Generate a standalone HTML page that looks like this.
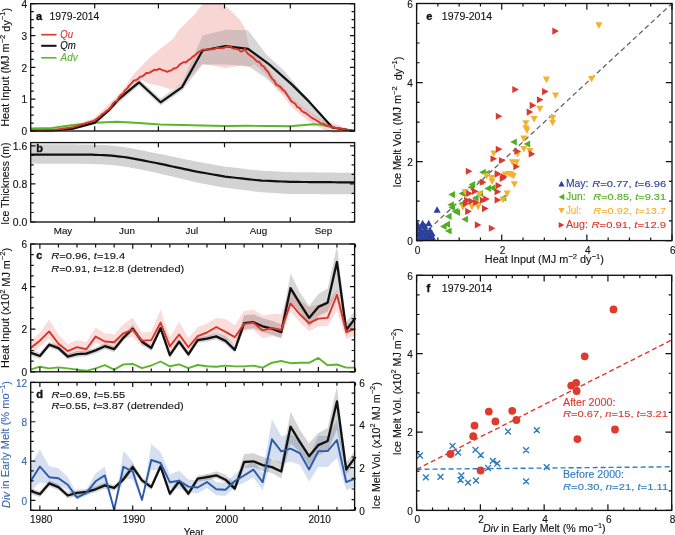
<!DOCTYPE html><html><head><meta charset="utf-8"><style>html,body{margin:0;padding:0;background:#fff;width:675px;height:535px;overflow:hidden;position:relative}</style></head><body><svg width="675" height="535" viewBox="0 0 675 535" style="position:absolute;left:0;top:0;font-family:'Liberation Sans', sans-serif">
<rect width="675" height="535" fill="#fff"/>
<path d="M30.7 130.6 L73 126.5 L94.8 117.5 L117 96.5 L125 87 L133 75 L147.8 59.6 L159.6 49.3 L173 38.9 L178.9 30 L184.8 24 L194.1 15 L201.6 5.6 L204 3.7 L222 3.7 L228 8 L240 20 L245 28 L250 52 L254 54.51 L258 57.5 L262 61.5 L266 65.5 L270 70.83 L274 76.49 L278 81.57 L282 85.09 L286 89.84 L290 95.41 L294 99.8 L298 103 L302 106.2 L306 109.39 L310 112.37 L314 114.8 L318 117.15 L322 119.15 L326 121.09 L330 122.3 L334 123.5 L354.6 131 L354.6 131 L334 133 L330 131.8 L326 130.59 L322 128.65 L318 126.65 L314 124.3 L310 121.87 L306 118.89 L302 115.7 L298 112.5 L294 109.3 L290 104.91 L286 99.34 L282 94.59 L278 91.07 L274 85.99 L270 80.33 L266 75 L262 71 L258 67 L254 64.01 L250 67 L240 66 L225 68 L215 66 L202 64 L195 72 L182 85 L171.7 89.5 L159.9 86 L148.7 83.5 L141.9 80 L130 91 L117 102 L94.8 121 L73 128.5 L30.7 131Z" fill="#f8d6d4" fill-opacity="1" stroke="none" />
<path d="M30.7 130 L52 130 L73 127.5 L94.8 120.5 L117 100 L139 79 L160.6 98.5 L182.1 83 L202.6 35.4 L225.4 29.8 L248.1 30.3 L266.8 55.1 L283.6 70.3 L300.5 90.5 L317.3 110.7 L330.8 125.8 L354.6 131 L354.6 131 L332.4 128.3 L317.3 119 L300.5 107.3 L283.6 93.8 L266.8 78.7 L248.1 66 L225.4 64.4 L202.6 64.4 L182.1 90.5 L160.6 105.5 L139 85.5 L117 104.5 L94.8 124.5 L73 129.5 L52 131 L30.7 131Z" fill="#9c9c9c" fill-opacity="0.4" stroke="none" />
<path d="M30.7 128.4 L52 128 L73 125 L94.8 122.8 L117 121.7 L139 123 L160 124.5 L182 125 L202 125.5 L225 126 L248 125.8 L270 126 L290 126.2 L313 124.3 L320 124.6 L335 128 L354.6 131" fill="none" stroke="#5cb52a" stroke-width="1.9" stroke-linejoin="round" stroke-linecap="butt" />
<path d="M30.7 130.5 L52 130.5 L73 128.6 L94.8 122.6 L108.7 110.5 L118 100 L127.4 91.8 L139 82.3 L160.6 102.3 L182.1 87.1 L202.6 50.5 L225.4 46.2 L248.1 48.8 L269.5 64.6 L292 84.6 L308.9 101.4 L332.4 127.5 L354.6 131" fill="none" stroke="#111" stroke-width="2.2" stroke-linejoin="round" stroke-linecap="butt" />
<path d="M30.7 131 L32.8 130.93 L34.9 130.86 L37 130.79 L39.1 130.72 L41.2 130.65 L43.3 130.59 L45.4 130.52 L47.5 130.45 L49.6 130.38 L51.7 130.31 L53.8 130.03 L55.9 129.72 L58 129.41 L60.1 129.1 L62.2 128.79 L64.3 128.48 L66.4 128.17 L68.5 127.86 L70.6 127.55 L72.7 127.24 L74.8 126.65 L76.9 126 L79 125.36 L81.1 124.71 L83.2 124.07 L85.3 123.42 L87.4 122.77 L89.5 122.13 L91.6 121.48 L93.7 120.84 L95.8 119.69 L97.9 118 L100 116.31 L102.1 114.15 L104.2 113.01 L106.3 111 L108.4 109.73 L110.5 107.53 L112.6 104.2 L114.7 101.78 L116.8 100.94 L118.9 97.46 L121 94.84 L123.1 93.64 L125.2 90.11 L127.3 88.38 L129.4 85.38 L131.5 83.31 L133.6 80.75 L135.7 80.15 L137.8 79.1 L139.9 77.01 L142 76.33 L144.1 75.16 L146.2 73.02 L148.3 73.27 L150.4 72.17 L152.5 70.85 L154.6 69.56 L156.7 70.26 L158.8 68.76 L160.9 69.33 L163 70.33 L165.1 70.74 L167.2 71.82 L169.3 70.86 L171.4 70.4 L173.5 68.56 L175.6 68.26 L177.7 66.96 L179.8 64.36 L181.9 63.21 L184 62.15 L186.1 62.28 L188.2 60.12 L190.3 59.05 L192.4 56.84 L194.5 55.59 L196.6 53.74 L198.7 52.05 L200.8 50.85 L202.9 49.43 L205 49.84 L207.1 49.28 L209.2 49.56 L211.3 49.27 L213.4 49.33 L215.5 48.47 L217.6 47.27 L219.7 48.24 L221.8 48.15 L223.9 47.76 L226 46.87 L228.1 46.85 L230.2 46.18 L232.3 48.21 L234.4 48.67 L236.5 49.08 L238.6 49.6 L240.7 51.44 L242.8 51.1 L244.9 48.89 L247 52.7 L249.1 54.69 L251.2 56.12 L253.3 57.7 L255.4 59.87 L257.5 61.67 L259.6 62.28 L261.7 65.41 L263.8 66.48 L265.9 69.79 L268 71.69 L270.1 75.66 L272.2 78.81 L274.3 80.93 L276.4 84.79 L278.5 85.67 L280.6 87.1 L282.7 89.89 L284.8 91.33 L286.9 94.55 L289 97.86 L291.1 101.15 L293.2 102.54 L295.3 104.02 L297.4 107.18 L299.5 107.86 L301.6 110.7 L303.7 112.27 L305.8 113.01 L307.9 114.83 L310 116.4 L312.1 117.9 L314.2 119.09 L316.3 120.3 L318.4 121.57 L320.5 123.19 L322.6 123.46 L324.7 124.38 L326.8 125.73 L328.9 125.49 L331 126.6 L333.1 127.23 L335.2 127.7 L337.3 128.06 L339.4 128.42 L341.5 128.77 L343.6 129.13 L345.7 129.49 L347.8 129.84 L349.9 130.2 L352 130.56 L354.1 130.92 L354.6 131" fill="none" stroke="#d8352b" stroke-width="1.9" stroke-linejoin="round" stroke-linecap="butt" />
<rect x="30.7" y="3.7" width="323.9" height="127.3" fill="none" stroke="#111" stroke-width="1.35"/>
<path d="M30.7 131 L35.4 131 M30.7 99.17 L35.4 99.17 M30.7 67.35 L35.4 67.35 M30.7 35.53 L35.4 35.53 M30.7 3.7 L35.4 3.7 M30.7 131 L33.7 131 M30.7 123.04 L33.7 123.04 M30.7 115.09 L33.7 115.09 M30.7 107.13 L33.7 107.13 M30.7 99.17 L33.7 99.17 M30.7 91.22 L33.7 91.22 M30.7 83.26 L33.7 83.26 M30.7 75.31 L33.7 75.31 M30.7 67.35 L33.7 67.35 M30.7 59.39 L33.7 59.39 M30.7 51.44 L33.7 51.44 M30.7 43.48 L33.7 43.48 M30.7 35.53 L33.7 35.53 M30.7 27.57 L33.7 27.57 M30.7 19.61 L33.7 19.61 M30.7 11.66 L33.7 11.66 M30.7 3.7 L33.7 3.7 M354.6 131 L349.9 131 M354.6 99.17 L349.9 99.17 M354.6 67.35 L349.9 67.35 M354.6 35.53 L349.9 35.53 M354.6 3.7 L349.9 3.7 M354.6 131 L351.6 131 M354.6 123.04 L351.6 123.04 M354.6 115.09 L351.6 115.09 M354.6 107.13 L351.6 107.13 M354.6 99.17 L351.6 99.17 M354.6 91.22 L351.6 91.22 M354.6 83.26 L351.6 83.26 M354.6 75.31 L351.6 75.31 M354.6 67.35 L351.6 67.35 M354.6 59.39 L351.6 59.39 M354.6 51.44 L351.6 51.44 M354.6 43.48 L351.6 43.48 M354.6 35.53 L351.6 35.53 M354.6 27.57 L351.6 27.57 M354.6 19.61 L351.6 19.61 M354.6 11.66 L351.6 11.66 M354.6 3.7 L351.6 3.7 M94.7 131 L94.7 126.3 M158.4 131 L158.4 126.3 M224.5 131 L224.5 126.3 M290.3 131 L290.3 126.3 M94.7 3.7 L94.7 8.4 M158.4 3.7 L158.4 8.4 M224.5 3.7 L224.5 8.4 M290.3 3.7 L290.3 8.4 " stroke="#111" stroke-width="1.2" fill="none"/>
<text x="27.2" y="135.2" font-size="10.0" text-anchor="end" fill="#111" stroke="#111" stroke-width="0.12" textLength="5.6" lengthAdjust="spacingAndGlyphs">0</text>
<text x="27.2" y="103.38" font-size="10.0" text-anchor="end" fill="#111" stroke="#111" stroke-width="0.12" textLength="5.6" lengthAdjust="spacingAndGlyphs">1</text>
<text x="27.2" y="71.55" font-size="10.0" text-anchor="end" fill="#111" stroke="#111" stroke-width="0.12" textLength="5.6" lengthAdjust="spacingAndGlyphs">2</text>
<text x="27.2" y="39.73" font-size="10.0" text-anchor="end" fill="#111" stroke="#111" stroke-width="0.12" textLength="5.6" lengthAdjust="spacingAndGlyphs">3</text>
<text x="27.2" y="7.9" font-size="10.0" text-anchor="end" fill="#111" stroke="#111" stroke-width="0.12" textLength="5.6" lengthAdjust="spacingAndGlyphs">4</text>
<text transform="translate(5.8 67.3) rotate(-90)" x="0" y="0" font-size="10" text-anchor="middle" dominant-baseline="central" fill="#111" stroke="#111" stroke-width="0.12"  textLength="119" lengthAdjust="spacingAndGlyphs">Heat Input (MJ m<tspan font-size="7" dy="-4">−2</tspan><tspan dy="4"> dy</tspan><tspan font-size="7" dy="-4">−1</tspan><tspan dy="4">)</tspan></text>
<text x="36" y="19.7" font-size="11" text-anchor="start" fill="#111" stroke="#111" stroke-width="0.35" font-weight="bold" font-style="normal" >a</text>
<text x="49.5" y="19.7" font-size="10.4" text-anchor="start" fill="#111" stroke="#111" stroke-width="0.12" font-weight="normal" font-style="normal"  textLength="49.8" lengthAdjust="spacingAndGlyphs">1979-2014</text>
<path d="M41.2 34.7 H56.5" stroke="#d8352b" stroke-width="1.6"/>
<path d="M41.2 45.8 H56.5" stroke="#111" stroke-width="2"/>
<path d="M41.2 57.8 H56.5" stroke="#5cb52a" stroke-width="1.6"/>
<text x="60.2" y="37.8" font-size="10" text-anchor="start" fill="#d8352b" stroke="#d8352b" stroke-width="0.12" font-weight="normal" font-style="italic"  textLength="12.8" lengthAdjust="spacingAndGlyphs">Qu</text>
<text x="60.2" y="48.9" font-size="10" text-anchor="start" fill="#111" stroke="#111" stroke-width="0.12" font-weight="normal" font-style="italic"  textLength="15.6" lengthAdjust="spacingAndGlyphs">Qm</text>
<text x="60.6" y="60.9" font-size="10" text-anchor="start" fill="#5cb52a" stroke="#5cb52a" stroke-width="0.12" font-weight="normal" font-style="italic"  textLength="17" lengthAdjust="spacingAndGlyphs">Adv</text>
<path d="M30.7 144.1 L34.75 144.12 L38.8 144.15 L42.85 144.17 L46.9 144.2 L50.95 144.22 L55 144.24 L59.05 144.27 L63.1 144.29 L67.15 144.31 L71.2 144.34 L75.25 144.36 L79.3 144.39 L83.35 144.41 L87.4 144.43 L91.45 144.55 L95.5 144.73 L99.55 144.91 L103.6 145.08 L107.65 145.26 L111.7 145.57 L115.75 146.07 L119.8 146.57 L123.85 147.06 L127.9 147.68 L131.95 148.47 L136 149.27 L140.05 150.06 L144.1 150.86 L148.15 151.65 L152.2 152.43 L156.25 153.19 L160.3 153.99 L164.35 154.85 L168.4 155.71 L172.45 156.56 L176.5 157.42 L180.55 158.28 L184.6 159.14 L188.65 159.99 L192.7 160.85 L196.75 161.64 L200.8 162.34 L204.85 163.04 L208.9 163.76 L212.95 164.49 L217 165.21 L221.05 165.94 L225.1 166.66 L229.15 167.12 L233.2 167.58 L237.25 168.04 L241.3 168.5 L245.35 168.96 L249.4 169.42 L253.45 169.88 L257.5 170.34 L261.55 170.71 L265.6 170.9 L269.65 171.1 L273.7 171.3 L277.75 171.5 L281.8 171.7 L285.85 171.9 L289.9 172.1 L293.95 172.14 L298 172.19 L302.05 172.23 L306.1 172.27 L310.15 172.32 L314.2 172.36 L318.25 172.41 L322.3 172.45 L326.35 172.49 L330.4 172.54 L334.45 172.58 L338.5 172.63 L342.55 172.67 L346.6 172.71 L350.65 172.76 L354.7 172.8 L354.7 194.4 L350.65 194.37 L346.6 194.34 L342.55 194.31 L338.5 194.28 L334.45 194.24 L330.4 194.21 L326.35 194.18 L322.3 194.15 L318.25 194.12 L314.2 194.09 L310.15 194.06 L306.1 194.02 L302.05 193.99 L298 193.96 L293.95 193.93 L289.9 193.89 L285.85 193.66 L281.8 193.42 L277.75 193.18 L273.7 192.95 L269.65 192.71 L265.6 192.47 L261.55 192.24 L257.5 191.84 L253.45 191.34 L249.4 190.84 L245.35 190.34 L241.3 189.84 L237.25 189.34 L233.2 188.85 L229.15 188.35 L225.1 187.85 L221.05 187.09 L217 186.33 L212.95 185.56 L208.9 184.8 L204.85 184.04 L200.8 183.22 L196.75 182.4 L192.7 181.49 L188.65 180.52 L184.6 179.54 L180.55 178.57 L176.5 177.59 L172.45 176.62 L168.4 175.64 L164.35 174.67 L160.3 173.69 L156.25 172.77 L152.2 171.89 L148.15 171.06 L144.1 170.26 L140.05 169.47 L136 168.68 L131.95 167.89 L127.9 167.09 L123.85 166.48 L119.8 165.99 L115.75 165.5 L111.7 165.01 L107.65 164.7 L103.6 164.52 L99.55 164.35 L95.5 164.17 L91.45 164 L87.4 163.89 L83.35 163.86 L79.3 163.84 L75.25 163.82 L71.2 163.8 L67.15 163.78 L63.1 163.76 L59.05 163.74 L55 163.72 L50.95 163.7 L46.9 163.68 L42.85 163.66 L38.8 163.64 L34.75 163.62 L30.7 163.6Z" fill="#d3d3d4" fill-opacity="1" stroke="none" />
<path d="M30.7 154.6 L34.75 154.6 L38.8 154.6 L42.85 154.6 L46.9 154.6 L50.95 154.6 L55 154.6 L59.05 154.6 L63.1 154.6 L67.15 154.6 L71.2 154.6 L75.25 154.6 L79.3 154.6 L83.35 154.6 L87.4 154.6 L91.45 154.69 L95.5 154.85 L99.55 155 L103.6 155.16 L107.65 155.31 L111.7 155.6 L115.75 156.07 L119.8 156.54 L123.85 157.01 L127.9 157.61 L131.95 158.38 L136 159.15 L140.05 159.92 L144.1 160.69 L148.15 161.47 L152.2 162.24 L156.25 163.01 L160.3 163.83 L164.35 164.7 L168.4 165.57 L172.45 166.45 L176.5 167.32 L180.55 168.19 L184.6 169.06 L188.65 169.93 L192.7 170.8 L196.75 171.61 L200.8 172.32 L204.85 173.04 L208.9 173.76 L212.95 174.47 L217 175.19 L221.05 175.9 L225.1 176.61 L229.15 177.06 L233.2 177.51 L237.25 177.97 L241.3 178.42 L245.35 178.87 L249.4 179.32 L253.45 179.77 L257.5 180.22 L261.55 180.57 L265.6 180.76 L269.65 180.95 L273.7 181.14 L277.75 181.33 L281.8 181.52 L285.85 181.71 L289.9 181.9 L293.95 181.93 L298 181.96 L302.05 181.99 L306.1 182.02 L310.15 182.06 L314.2 182.09 L318.25 182.12 L322.3 182.15 L326.35 182.18 L330.4 182.21 L334.45 182.24 L338.5 182.28 L342.55 182.31 L346.6 182.34 L350.65 182.37 L354.7 182.4" fill="none" stroke="#111" stroke-width="2.2" stroke-linejoin="round" stroke-linecap="butt" />
<rect x="30.7" y="142.6" width="323.9" height="79.4" fill="none" stroke="#111" stroke-width="1.35"/>
<path d="M30.7 222 L35.4 222 M30.7 183.92 L35.4 183.92 M30.7 145.84 L35.4 145.84 M30.7 222 L33.7 222 M30.7 212.48 L33.7 212.48 M30.7 202.96 L33.7 202.96 M30.7 193.44 L33.7 193.44 M30.7 183.92 L33.7 183.92 M30.7 174.4 L33.7 174.4 M30.7 164.88 L33.7 164.88 M30.7 155.36 L33.7 155.36 M30.7 145.84 L33.7 145.84 M354.6 222 L349.9 222 M354.6 183.92 L349.9 183.92 M354.6 145.84 L349.9 145.84 M354.6 222 L351.6 222 M354.6 212.48 L351.6 212.48 M354.6 202.96 L351.6 202.96 M354.6 193.44 L351.6 193.44 M354.6 183.92 L351.6 183.92 M354.6 174.4 L351.6 174.4 M354.6 164.88 L351.6 164.88 M354.6 155.36 L351.6 155.36 M354.6 145.84 L351.6 145.84 M94.7 222 L94.7 217.3 M158.4 222 L158.4 217.3 M224.5 222 L224.5 217.3 M290.3 222 L290.3 217.3 M94.7 142.6 L94.7 147.3 M158.4 142.6 L158.4 147.3 M224.5 142.6 L224.5 147.3 M290.3 142.6 L290.3 147.3 " stroke="#111" stroke-width="1.2" fill="none"/>
<text x="27.2" y="226" font-size="10.0" text-anchor="end" fill="#111" stroke="#111" stroke-width="0.12" textLength="14.5" lengthAdjust="spacingAndGlyphs">0.0</text>
<text x="27.2" y="187.92" font-size="10.0" text-anchor="end" fill="#111" stroke="#111" stroke-width="0.12" textLength="14.5" lengthAdjust="spacingAndGlyphs">0.8</text>
<text x="27.2" y="149.84" font-size="10.0" text-anchor="end" fill="#111" stroke="#111" stroke-width="0.12" textLength="14.5" lengthAdjust="spacingAndGlyphs">1.6</text>
<text transform="translate(5.6 183.6) rotate(-90)" x="0" y="0" font-size="10" text-anchor="middle" dominant-baseline="central" fill="#111" stroke="#111" stroke-width="0.12"  textLength="82.2" lengthAdjust="spacingAndGlyphs">Ice Thickness (m)</text>
<text x="36.2" y="151.5" font-size="11" text-anchor="start" fill="#111" stroke="#111" stroke-width="0.35" font-weight="bold" font-style="normal" >b</text>
<text x="63" y="233.6" font-size="9.8" text-anchor="middle" fill="#111" stroke="#111" stroke-width="0.12" font-weight="normal" font-style="normal" >May</text>
<text x="127" y="233.6" font-size="9.8" text-anchor="middle" fill="#111" stroke="#111" stroke-width="0.12" font-weight="normal" font-style="normal" >Jun</text>
<text x="191.8" y="233.6" font-size="9.8" text-anchor="middle" fill="#111" stroke="#111" stroke-width="0.12" font-weight="normal" font-style="normal" >Jul</text>
<text x="258.4" y="233.6" font-size="9.8" text-anchor="middle" fill="#111" stroke="#111" stroke-width="0.12" font-weight="normal" font-style="normal" >Aug</text>
<text x="323.4" y="233.6" font-size="9.8" text-anchor="middle" fill="#111" stroke="#111" stroke-width="0.12" font-weight="normal" font-style="normal" >Sep</text>
<path d="M30.6 341.1 L39.88 332.7 L49.17 319.4 L58.45 334.7 L67.73 344.1 L77.02 340.1 L86.3 342.2 L95.58 327.6 L104.86 333.5 L114.15 334.2 L123.43 324.3 L132.71 317.7 L142 332.6 L151.28 332.1 L160.56 309.6 L169.84 337.4 L179.13 321.5 L188.41 338.2 L197.69 327.1 L206.98 323.5 L216.26 318 L225.54 318.9 L234.83 325.2 L244.11 310.9 L253.39 309.7 L262.68 315.4 L271.96 314 L281.24 314 L290.52 287.5 L299.81 300.2 L309.09 307.2 L318.37 304.6 L327.66 302.9 L336.94 289.8 L346.22 324 L355.5 318.8 L355.5 335.8 L346.22 339 L336.94 310.8 L327.66 325.9 L318.37 326.6 L309.09 331.2 L299.81 322.2 L290.52 311.5 L281.24 338 L271.96 336 L262.68 338.4 L253.39 329.7 L244.11 330.9 L234.83 344.2 L225.54 338.9 L216.26 333 L206.98 338.5 L197.69 342.1 L188.41 353.2 L179.13 341.5 L169.84 352.4 L160.56 329.6 L151.28 346.1 L142 346.6 L132.71 336.7 L123.43 339.3 L114.15 348.2 L104.86 347.5 L95.58 342.6 L86.3 354.2 L77.02 352.1 L67.73 356.1 L58.45 349.7 L49.17 338.4 L39.88 346.7 L30.6 354.1Z" fill="#fadcda" fill-opacity="1" stroke="none" />
<path d="M30.6 349.6 L39.88 353 L49.17 341.7 L58.45 345.1 L67.73 353.6 L77.02 351.1 L86.3 350.6 L95.58 347.4 L104.86 343.2 L114.15 346.2 L123.43 334.8 L132.71 324.6 L142 338.7 L151.28 345 L160.56 324.2 L169.84 352.2 L179.13 338.7 L188.41 351.4 L197.69 337.1 L206.98 335.7 L216.26 332.4 L225.54 335.9 L234.83 344.9 L244.11 315.2 L253.39 314.2 L262.68 318.3 L271.96 320.7 L281.24 324.2 L290.52 273.2 L299.81 292.3 L309.09 305.9 L318.37 293.9 L327.66 288.6 L336.94 246 L346.22 322 L355.5 309.9 L355.5 323.9 L346.22 336 L336.94 292 L327.66 311.6 L318.37 315.9 L309.09 326.9 L299.81 311.3 L290.52 303.2 L281.24 338.2 L271.96 334.7 L262.68 332.3 L253.39 328.2 L244.11 329.2 L234.83 352.9 L225.54 343.9 L216.26 339.4 L206.98 341.7 L197.69 343.1 L188.41 357.4 L179.13 344.7 L169.84 358.2 L160.56 331.2 L151.28 351 L142 344.7 L132.71 331.6 L123.43 340.8 L114.15 352.2 L104.86 349.2 L95.58 353.4 L86.3 356.6 L77.02 357.1 L67.73 359.6 L58.45 351.1 L49.17 347.7 L39.88 359 L30.6 355.6Z" fill="#d6d6d6" fill-opacity="1" stroke="none" style="mix-blend-mode:multiply"/>
<path d="M30.6 369.6 L39.88 366.7 L49.17 368.4 L58.45 367.4 L67.73 368.4 L77.02 369.6 L86.3 370.8 L95.58 368.4 L104.86 365.2 L114.15 369.6 L123.43 364.4 L132.71 363.9 L142 368.2 L151.28 365.5 L160.56 361.5 L169.84 366.3 L179.13 364.4 L188.41 368.2 L197.69 365 L206.98 366.3 L216.26 366.7 L225.54 365.6 L234.83 366.4 L244.11 366.4 L253.39 365.6 L262.68 367.6 L271.96 362.7 L281.24 361 L290.52 363.2 L299.81 362.8 L309.09 362.8 L318.37 357.9 L327.66 365.2 L336.94 364.5 L346.22 367.6 L355.5 367.6" fill="none" stroke="#5cb52a" stroke-width="1.9" stroke-linejoin="round" stroke-linecap="butt" />
<path d="M30.6 352.6 L39.88 356 L49.17 344.7 L58.45 348.1 L67.73 356.6 L77.02 354.1 L86.3 353.6 L95.58 350.4 L104.86 346.2 L114.15 349.2 L123.43 337.8 L132.71 328.6 L142 341.7 L151.28 348 L160.56 328.2 L169.84 355.2 L179.13 341.7 L188.41 354.4 L197.69 340.1 L206.98 338.7 L216.26 336.4 L225.54 340.9 L234.83 349.9 L244.11 323.2 L253.39 322.2 L262.68 326.3 L271.96 328.7 L281.24 332.2 L290.52 288.2 L299.81 303.3 L309.09 317.9 L318.37 306.9 L327.66 302.6 L336.94 262 L346.22 330 L355.5 317.9" fill="none" stroke="#111" stroke-width="2.3" stroke-linejoin="round" stroke-linecap="butt" />
<path d="M30.6 348.1 L39.88 340.7 L49.17 331.4 L58.45 343.7 L67.73 351.1 L77.02 347.1 L86.3 349.2 L95.58 336.6 L104.86 341.5 L114.15 342.2 L123.43 333.3 L132.71 329.7 L142 340.6 L151.28 340.1 L160.56 322.6 L169.84 346.4 L179.13 334.5 L188.41 347.2 L197.69 336.1 L206.98 332.5 L216.26 327 L225.54 331.9 L234.83 337.2 L244.11 323.9 L253.39 322.7 L262.68 330.4 L271.96 328 L281.24 330 L290.52 303.5 L299.81 314.2 L309.09 323.2 L318.37 318.6 L327.66 317.9 L336.94 294.8 L346.22 332 L355.5 328.8" fill="none" stroke="#d8352b" stroke-width="1.9" stroke-linejoin="round" stroke-linecap="butt" />
<rect x="30.7" y="244" width="323.9" height="127.8" fill="none" stroke="#111" stroke-width="1.35"/>
<path d="M30.7 371.8 L35.4 371.8 M30.7 329.2 L35.4 329.2 M30.7 286.6 L35.4 286.6 M30.7 244 L35.4 244 M30.7 371.8 L33.7 371.8 M30.7 361.15 L33.7 361.15 M30.7 350.5 L33.7 350.5 M30.7 339.85 L33.7 339.85 M30.7 329.2 L33.7 329.2 M30.7 318.55 L33.7 318.55 M30.7 307.9 L33.7 307.9 M30.7 297.25 L33.7 297.25 M30.7 286.6 L33.7 286.6 M30.7 275.95 L33.7 275.95 M30.7 265.3 L33.7 265.3 M30.7 254.65 L33.7 254.65 M30.7 244 L33.7 244 M354.6 371.8 L349.9 371.8 M354.6 329.2 L349.9 329.2 M354.6 286.6 L349.9 286.6 M354.6 244 L349.9 244 M354.6 371.8 L351.6 371.8 M354.6 361.15 L351.6 361.15 M354.6 350.5 L351.6 350.5 M354.6 339.85 L351.6 339.85 M354.6 329.2 L351.6 329.2 M354.6 318.55 L351.6 318.55 M354.6 307.9 L351.6 307.9 M354.6 297.25 L351.6 297.25 M354.6 286.6 L351.6 286.6 M354.6 275.95 L351.6 275.95 M354.6 265.3 L351.6 265.3 M354.6 254.65 L351.6 254.65 M354.6 244 L351.6 244 M39.88 371.8 L39.88 367.1 M132.71 371.8 L132.71 367.1 M225.54 371.8 L225.54 367.1 M318.37 371.8 L318.37 367.1 M39.88 371.8 L39.88 368.4 M58.45 371.8 L58.45 368.4 M77.02 371.8 L77.02 368.4 M95.58 371.8 L95.58 368.4 M114.15 371.8 L114.15 368.4 M132.71 371.8 L132.71 368.4 M151.28 371.8 L151.28 368.4 M169.84 371.8 L169.84 368.4 M188.41 371.8 L188.41 368.4 M206.98 371.8 L206.98 368.4 M225.54 371.8 L225.54 368.4 M244.11 371.8 L244.11 368.4 M262.68 371.8 L262.68 368.4 M281.24 371.8 L281.24 368.4 M299.81 371.8 L299.81 368.4 M318.37 371.8 L318.37 368.4 M336.94 371.8 L336.94 368.4 M355.5 371.8 L355.5 368.4 M39.88 244 L39.88 248.7 M132.71 244 L132.71 248.7 M225.54 244 L225.54 248.7 M318.37 244 L318.37 248.7 M39.88 244 L39.88 247.4 M58.45 244 L58.45 247.4 M77.02 244 L77.02 247.4 M95.58 244 L95.58 247.4 M114.15 244 L114.15 247.4 M132.71 244 L132.71 247.4 M151.28 244 L151.28 247.4 M169.84 244 L169.84 247.4 M188.41 244 L188.41 247.4 M206.98 244 L206.98 247.4 M225.54 244 L225.54 247.4 M244.11 244 L244.11 247.4 M262.68 244 L262.68 247.4 M281.24 244 L281.24 247.4 M299.81 244 L299.81 247.4 M318.37 244 L318.37 247.4 M336.94 244 L336.94 247.4 M355.5 244 L355.5 247.4 " stroke="#111" stroke-width="1.2" fill="none"/>
<text x="27.2" y="375.9" font-size="10.0" text-anchor="end" fill="#111" stroke="#111" stroke-width="0.12" textLength="5.6" lengthAdjust="spacingAndGlyphs">0</text>
<text x="27.2" y="333.3" font-size="10.0" text-anchor="end" fill="#111" stroke="#111" stroke-width="0.12" textLength="5.6" lengthAdjust="spacingAndGlyphs">2</text>
<text x="27.2" y="290.7" font-size="10.0" text-anchor="end" fill="#111" stroke="#111" stroke-width="0.12" textLength="5.6" lengthAdjust="spacingAndGlyphs">4</text>
<text x="27.2" y="248.1" font-size="10.0" text-anchor="end" fill="#111" stroke="#111" stroke-width="0.12" textLength="5.6" lengthAdjust="spacingAndGlyphs">6</text>
<text transform="translate(5.8 307.9) rotate(-90)" x="0" y="0" font-size="10" text-anchor="middle" dominant-baseline="central" fill="#111" stroke="#111" stroke-width="0.12"  textLength="120" lengthAdjust="spacingAndGlyphs">Heat Input (x10<tspan font-size="7" dy="-4">2</tspan><tspan dy="4"> MJ m</tspan><tspan font-size="7" dy="-4">−2</tspan><tspan dy="4">)</tspan></text>
<text x="36.2" y="259.4" font-size="10.8" text-anchor="start" fill="#111" stroke="#111" stroke-width="0.35" font-weight="bold" font-style="normal" >c</text>
<text x="51.2" y="259.4" font-size="9.8" text-anchor="start" fill="#111" stroke="#111" stroke-width="0.12" font-weight="normal" font-style="normal"  textLength="74" lengthAdjust="spacingAndGlyphs"><tspan font-style="italic">R</tspan>=0.96, <tspan font-style="italic">t</tspan>=19.4</text>
<text x="51.2" y="272.1" font-size="9.8" text-anchor="start" fill="#111" stroke="#111" stroke-width="0.12" font-weight="normal" font-style="normal"  textLength="133" lengthAdjust="spacingAndGlyphs"><tspan font-style="italic">R</tspan>=0.91, <tspan font-style="italic">t</tspan>=12.8 (detrended)</text>
<path d="M30.6 465.3 L39.88 449.5 L49.17 466.2 L58.45 468.3 L67.73 476.8 L77.02 494.6 L86.3 489.8 L95.58 473.3 L104.86 466.4 L114.15 509.7 L123.43 450.8 L132.71 461.5 L142 499.9 L151.28 444 L160.56 452 L169.84 474.2 L179.13 470.7 L188.41 479.6 L197.69 480.5 L206.98 474 L216.26 482.2 L225.54 482.8 L234.83 474 L244.11 467.5 L253.39 460.6 L262.68 473.3 L271.96 419.3 L281.24 436.3 L290.52 433.6 L299.81 441.1 L309.09 457.5 L318.37 436.1 L327.66 436.1 L336.94 420 L346.22 470.1 L355.5 466.4 L355.5 486.4 L346.22 490.1 L336.94 458 L327.66 467.1 L318.37 467.1 L309.09 481.5 L299.81 465.1 L290.52 461.6 L281.24 464.3 L271.96 458.3 L262.68 490.3 L253.39 477.6 L244.11 482.5 L234.83 487 L225.54 495.8 L216.26 495.2 L206.98 488 L197.69 493.5 L188.41 492.6 L179.13 488.7 L169.84 488.2 L160.56 470 L151.28 470 L142 499.9 L132.71 479.5 L123.43 478.8 L114.15 509.7 L104.86 484.4 L95.58 489.3 L86.3 495.8 L77.02 499.6 L67.73 489.8 L58.45 485.3 L49.17 484.2 L39.88 482.5 L30.6 491.3Z" fill="#d5dff0" fill-opacity="1" stroke="none" />
<path d="M30.6 488 L39.88 491.2 L49.17 480.4 L58.45 484.1 L67.73 492.5 L77.02 489.8 L86.3 488.9 L95.58 486.3 L104.86 482.4 L114.15 484.9 L123.43 475.4 L132.71 463 L142 477.4 L151.28 484.1 L160.56 462.5 L169.84 490.7 L179.13 478.3 L188.41 490.7 L197.69 475.6 L206.98 474.2 L216.26 471.3 L225.54 474.7 L234.83 483.6 L244.11 454 L253.39 453.3 L262.68 457.1 L271.96 459.1 L281.24 462.5 L290.52 411.7 L299.81 429.8 L309.09 443.2 L318.37 433.1 L327.66 428 L336.94 386.4 L346.22 462.5 L355.5 449.9 L355.5 461.9 L346.22 474.5 L336.94 429.4 L327.66 451 L318.37 455.1 L309.09 466.2 L299.81 451.8 L290.52 443.7 L281.24 478.5 L271.96 473.1 L262.68 471.1 L253.39 467.3 L244.11 468 L234.83 491.6 L225.54 482.7 L216.26 478.3 L206.98 480.2 L197.69 481.6 L188.41 496.7 L179.13 484.3 L169.84 496.7 L160.56 469.5 L151.28 490.1 L142 483.4 L132.71 470 L123.43 482.4 L114.15 490.9 L104.86 488.4 L95.58 492.3 L86.3 494.9 L77.02 495.8 L67.73 498.5 L58.45 490.1 L49.17 486.4 L39.88 497.2 L30.6 494Z" fill="#d4d4d4" fill-opacity="1" stroke="none" style="mix-blend-mode:multiply"/>
<path d="M30.6 491 L39.88 494.2 L49.17 483.4 L58.45 487.1 L67.73 495.5 L77.02 492.8 L86.3 491.9 L95.58 489.3 L104.86 485.4 L114.15 487.9 L123.43 479.4 L132.71 467 L142 480.4 L151.28 487.1 L160.56 466.5 L169.84 493.7 L179.13 481.3 L188.41 493.7 L197.69 478.6 L206.98 477.2 L216.26 475.3 L225.54 479.7 L234.83 488.6 L244.11 462 L253.39 461.3 L262.68 465.1 L271.96 467.1 L281.24 471.5 L290.52 426.7 L299.81 441.8 L309.09 456.2 L318.37 445.1 L327.66 441 L336.94 401.4 L346.22 469.5 L355.5 456.9" fill="none" stroke="#111" stroke-width="2.3" stroke-linejoin="round" stroke-linecap="butt" />
<path d="M30.6 481.3 L39.88 466.5 L49.17 477.2 L58.45 478.3 L67.73 484.8 L77.02 497.6 L86.3 492.8 L95.58 481.3 L104.86 475.4 L114.15 509.7 L123.43 466.8 L132.71 471.5 L142 499.9 L151.28 460 L160.56 463 L169.84 482.2 L179.13 480.7 L188.41 486.6 L197.69 487.5 L206.98 482 L216.26 489.2 L225.54 489.8 L234.83 481 L244.11 475.5 L253.39 469.6 L262.68 482.3 L271.96 439.3 L281.24 451.3 L290.52 448.6 L299.81 453.1 L309.09 469.5 L318.37 451.1 L327.66 451.1 L336.94 440 L346.22 482.1 L355.5 478.4" fill="none" stroke="#2b5ba8" stroke-width="1.9" stroke-linejoin="round" stroke-linecap="butt" />
<rect x="30.7" y="382.4" width="323.9" height="127.9" fill="none" stroke="#111" stroke-width="1.35"/>
<path d="M30.7 500.46 L35.4 500.46 M30.7 461.11 L35.4 461.11 M30.7 421.75 L35.4 421.75 M30.7 382.4 L35.4 382.4 M30.7 510.3 L33.7 510.3 M30.7 500.46 L33.7 500.46 M30.7 490.62 L33.7 490.62 M30.7 480.78 L33.7 480.78 M30.7 470.95 L33.7 470.95 M30.7 461.11 L33.7 461.11 M30.7 451.27 L33.7 451.27 M30.7 441.43 L33.7 441.43 M30.7 431.59 L33.7 431.59 M30.7 421.75 L33.7 421.75 M30.7 411.92 L33.7 411.92 M30.7 402.08 L33.7 402.08 M30.7 392.24 L33.7 392.24 M30.7 382.4 L33.7 382.4 M354.6 510.3 L349.9 510.3 M354.6 467.67 L349.9 467.67 M354.6 425.03 L349.9 425.03 M354.6 382.4 L349.9 382.4 M354.6 510.3 L351.6 510.3 M354.6 499.64 L351.6 499.64 M354.6 488.98 L351.6 488.98 M354.6 478.32 L351.6 478.32 M354.6 467.67 L351.6 467.67 M354.6 457.01 L351.6 457.01 M354.6 446.35 L351.6 446.35 M354.6 435.69 L351.6 435.69 M354.6 425.03 L351.6 425.03 M354.6 414.38 L351.6 414.38 M354.6 403.72 L351.6 403.72 M354.6 393.06 L351.6 393.06 M354.6 382.4 L351.6 382.4 M39.88 510.3 L39.88 505.6 M132.71 510.3 L132.71 505.6 M225.54 510.3 L225.54 505.6 M318.37 510.3 L318.37 505.6 M39.88 510.3 L39.88 506.9 M58.45 510.3 L58.45 506.9 M77.02 510.3 L77.02 506.9 M95.58 510.3 L95.58 506.9 M114.15 510.3 L114.15 506.9 M132.71 510.3 L132.71 506.9 M151.28 510.3 L151.28 506.9 M169.84 510.3 L169.84 506.9 M188.41 510.3 L188.41 506.9 M206.98 510.3 L206.98 506.9 M225.54 510.3 L225.54 506.9 M244.11 510.3 L244.11 506.9 M262.68 510.3 L262.68 506.9 M281.24 510.3 L281.24 506.9 M299.81 510.3 L299.81 506.9 M318.37 510.3 L318.37 506.9 M336.94 510.3 L336.94 506.9 M355.5 510.3 L355.5 506.9 M39.88 382.4 L39.88 387.1 M132.71 382.4 L132.71 387.1 M225.54 382.4 L225.54 387.1 M318.37 382.4 L318.37 387.1 M39.88 382.4 L39.88 385.8 M58.45 382.4 L58.45 385.8 M77.02 382.4 L77.02 385.8 M95.58 382.4 L95.58 385.8 M114.15 382.4 L114.15 385.8 M132.71 382.4 L132.71 385.8 M151.28 382.4 L151.28 385.8 M169.84 382.4 L169.84 385.8 M188.41 382.4 L188.41 385.8 M206.98 382.4 L206.98 385.8 M225.54 382.4 L225.54 385.8 M244.11 382.4 L244.11 385.8 M262.68 382.4 L262.68 385.8 M281.24 382.4 L281.24 385.8 M299.81 382.4 L299.81 385.8 M318.37 382.4 L318.37 385.8 M336.94 382.4 L336.94 385.8 M355.5 382.4 L355.5 385.8 " stroke="#111" stroke-width="1.2" fill="none"/>
<text x="27.2" y="504.56" font-size="10.0" text-anchor="end" fill="#3a68b0" stroke="#3a68b0" stroke-width="0.12" textLength="5.6" lengthAdjust="spacingAndGlyphs">0</text>
<text x="27.2" y="465.21" font-size="10.0" text-anchor="end" fill="#3a68b0" stroke="#3a68b0" stroke-width="0.12" textLength="5.6" lengthAdjust="spacingAndGlyphs">4</text>
<text x="27.2" y="425.85" font-size="10.0" text-anchor="end" fill="#3a68b0" stroke="#3a68b0" stroke-width="0.12" textLength="5.6" lengthAdjust="spacingAndGlyphs">8</text>
<text x="27.2" y="386.5" font-size="10.0" text-anchor="end" fill="#3a68b0" stroke="#3a68b0" stroke-width="0.12" textLength="11.2" lengthAdjust="spacingAndGlyphs">12</text>
<text x="359.3" y="514.6" font-size="10.0" text-anchor="start" fill="#111" stroke="#111" stroke-width="0.12" textLength="5.6" lengthAdjust="spacingAndGlyphs">0</text>
<text x="359.3" y="471.97" font-size="10.0" text-anchor="start" fill="#111" stroke="#111" stroke-width="0.12" textLength="5.6" lengthAdjust="spacingAndGlyphs">2</text>
<text x="359.3" y="429.33" font-size="10.0" text-anchor="start" fill="#111" stroke="#111" stroke-width="0.12" textLength="5.6" lengthAdjust="spacingAndGlyphs">4</text>
<text x="359.3" y="386.7" font-size="10.0" text-anchor="start" fill="#111" stroke="#111" stroke-width="0.12" textLength="5.6" lengthAdjust="spacingAndGlyphs">6</text>
<text transform="translate(5.8 444.5) rotate(-90)" x="0" y="0" font-size="10" text-anchor="middle" dominant-baseline="central" fill="#3a68b0" stroke="#3a68b0" stroke-width="0.12"  textLength="127" lengthAdjust="spacingAndGlyphs"><tspan font-style="italic">Div</tspan> in Early Melt (% mo<tspan font-size="7" dy="-4">−1</tspan><tspan dy="4">)</tspan></text>
<text transform="translate(376.3 445.7) rotate(-90)" x="0" y="0" font-size="10" text-anchor="middle" dominant-baseline="central" fill="#111" stroke="#111" stroke-width="0.12"  textLength="127" lengthAdjust="spacingAndGlyphs">Ice Melt Vol. (x10<tspan font-size="7" dy="-4">2</tspan><tspan dy="4"> MJ m</tspan><tspan font-size="7" dy="-4">−2</tspan><tspan dy="4">)</tspan></text>
<text x="36.2" y="397.6" font-size="11" text-anchor="start" fill="#111" stroke="#111" stroke-width="0.35" font-weight="bold" font-style="normal" >d</text>
<text x="51.4" y="397.6" font-size="9.8" text-anchor="start" fill="#111" stroke="#111" stroke-width="0.12" font-weight="normal" font-style="normal"  textLength="73.8" lengthAdjust="spacingAndGlyphs"><tspan font-style="italic">R</tspan>=0.69, <tspan font-style="italic">t</tspan>=5.55</text>
<text x="51.4" y="409" font-size="9.8" text-anchor="start" fill="#111" stroke="#111" stroke-width="0.12" font-weight="normal" font-style="normal"  textLength="132.3" lengthAdjust="spacingAndGlyphs"><tspan font-style="italic">R</tspan>=0.55, <tspan font-style="italic">t</tspan>=3.87 (detrended)</text>
<text x="41.18" y="522.9" font-size="10.0" text-anchor="middle" fill="#111" stroke="#111" stroke-width="0.12" textLength="22.4" lengthAdjust="spacingAndGlyphs">1980</text>
<text x="134.01" y="522.9" font-size="10.0" text-anchor="middle" fill="#111" stroke="#111" stroke-width="0.12" textLength="22.4" lengthAdjust="spacingAndGlyphs">1990</text>
<text x="226.84" y="522.9" font-size="10.0" text-anchor="middle" fill="#111" stroke="#111" stroke-width="0.12" textLength="22.4" lengthAdjust="spacingAndGlyphs">2000</text>
<text x="319.67" y="522.9" font-size="10.0" text-anchor="middle" fill="#111" stroke="#111" stroke-width="0.12" textLength="22.4" lengthAdjust="spacingAndGlyphs">2010</text>
<text x="193.8" y="535.5" font-size="10" text-anchor="middle" fill="#111" stroke="#111" stroke-width="0.12" font-weight="normal" font-style="normal" >Year</text>
<path d="M416.6 240.6 L672 3.5" stroke="#666" stroke-width="1.3" stroke-dasharray="5 3.2" fill="none"/>
<clipPath id="clipE"><rect x="416.6" y="3.5" width="255.4" height="237.1"/></clipPath>
<g clip-path="url(#clipE)">
<path d="M433.55 212.8 L440.65 212.8 L437.1 206.2Z M413.95 227.3 L421.05 227.3 L417.5 220.7Z M429.45 241.3 L436.55 241.3 L433 234.7Z M417.45 240.3 L424.55 240.3 L421 233.7Z M423.45 235.3 L430.55 235.3 L427 228.7Z M428.45 236.3 L435.55 236.3 L432 229.7Z M414.45 231.3 L421.55 231.3 L418 224.7Z M419.45 236.3 L426.55 236.3 L423 229.7Z M425.45 238.3 L432.55 238.3 L429 231.7Z M421.45 229.3 L428.55 229.3 L425 222.7Z M416.45 242.3 L423.55 242.3 L420 235.7Z M422.45 243.3 L429.55 243.3 L426 236.7Z M419.05 226.3 L426.15 226.3 L422.6 219.7Z M425.15 226.3 L432.25 226.3 L428.7 219.7Z M415.95 231.3 L423.05 231.3 L419.5 224.7Z M421.45 232.3 L428.55 232.3 L425 225.7Z M426.45 233.3 L433.55 233.3 L430 226.7Z M416.45 237.3 L423.55 237.3 L420 230.7Z M422.45 238.3 L429.55 238.3 L426 231.7Z M427.45 239.3 L434.55 239.3 L431 232.7Z M415.45 241.8 L422.55 241.8 L419 235.2Z M420.45 242.3 L427.55 242.3 L424 235.7Z M424.45 241.8 L431.55 241.8 L428 235.2Z M413.95 236.3 L421.05 236.3 L417.5 229.7Z M417.45 234.3 L424.55 234.3 L421 227.7Z M419.45 229.3 L426.55 229.3 L423 222.7Z" fill="#2c3f9c"/>
<path d="M455 191.05 L455 198.15 L448.4 194.6Z M465.1 189.95 L465.1 197.05 L458.5 193.5Z M475.2 180.95 L475.2 188.05 L468.6 184.5Z M474.1 183.75 L474.1 190.85 L467.5 187.3Z M483.6 178.15 L483.6 185.25 L477 181.7Z M490.9 184.85 L490.9 191.95 L484.3 188.4Z M495.4 184.35 L495.4 191.45 L488.8 187.9Z M453.9 201.15 L453.9 208.25 L447.3 204.7Z M455 203.95 L455 211.05 L448.4 207.5Z M458.4 207.85 L458.4 214.95 L451.8 211.4Z M460 208.95 L460 216.05 L453.4 212.5Z M451.6 212.85 L451.6 219.95 L445 216.4Z M467.9 215.75 L467.9 222.85 L461.3 219.3Z M446.6 222.95 L446.6 230.05 L440 226.5Z M450 220.75 L450 227.85 L443.4 224.3Z M451.6 227.45 L451.6 234.55 L445 231Z M465.1 200.05 L465.1 207.15 L458.5 203.6Z M478.6 194.35 L478.6 201.45 L472 197.9Z M483 189.95 L483 197.05 L476.4 193.5Z M516.8 138.45 L516.8 145.55 L510.2 142Z M530.2 140.45 L530.2 147.55 L523.6 144Z M485.8 168.65 L485.8 175.75 L479.2 172.2Z M489.9 169.65 L489.9 176.75 L483.3 173.2Z M506.3 194.35 L506.3 201.45 L499.7 197.9Z" fill="#52ae20"/>
<path d="M461.65 189 L468.75 189 L465.2 195.6Z M459.35 204.2 L466.45 204.2 L462.9 210.8Z M468.35 203.6 L475.45 203.6 L471.9 210.2Z M474.55 203.6 L481.65 203.6 L478.1 210.2Z M476.15 191.3 L483.25 191.3 L479.7 197.9Z M488.55 178.4 L495.65 178.4 L492.1 185Z M488.15 175.1 L495.25 175.1 L491.7 181.7Z M483.05 173 L490.15 173 L486.6 179.6Z M503.65 190.5 L510.75 190.5 L507.2 197.1Z M499.45 196.7 L506.55 196.7 L503 203.3Z M505.65 170.9 L512.75 170.9 L509.2 177.5Z M509.75 173 L516.85 173 L513.3 179.6Z M510.85 181.2 L517.95 181.2 L514.4 187.8Z M490.25 150.4 L497.35 150.4 L493.8 157Z M507.85 171.6 L514.95 171.6 L511.4 178.2Z M501.75 171.6 L508.85 171.6 L505.3 178.2Z M508.95 159.2 L516.05 159.2 L512.5 165.8Z M513.05 159.2 L520.15 159.2 L516.6 165.8Z M514.05 151 L521.15 151 L517.6 157.6Z M526.45 147.9 L533.55 147.9 L530 154.5Z M520.25 145.9 L527.35 145.9 L523.8 152.5Z M520.25 135.6 L527.35 135.6 L523.8 142.2Z M522.25 120.2 L529.35 120.2 L525.8 126.8Z M522.25 125.3 L529.35 125.3 L525.8 131.9Z M523.35 127.3 L530.45 127.3 L526.9 133.9Z M530.55 116 L537.65 116 L534.1 122.6Z M536.25 105.8 L543.35 105.8 L539.8 112.4Z M549.05 115 L556.15 115 L552.6 121.6Z M549.05 119.7 L556.15 119.7 L552.6 126.3Z M552.05 92.4 L559.15 92.4 L555.6 99Z M542.85 76.6 L549.95 76.6 L546.4 83.2Z M588.05 76 L595.15 76 L591.6 82.6Z M595.35 22.3 L602.45 22.3 L598.9 28.9Z" fill="#f5b12e"/>
<path d="M466.3 189.95 L466.3 197.05 L472.9 193.5Z M472 187.65 L472 194.75 L478.6 191.2Z M464.1 196.65 L464.1 203.75 L470.7 200.2Z M468.6 197.75 L468.6 204.85 L475.2 201.3Z M473.1 198.85 L473.1 205.95 L479.7 202.4Z M479.8 196.65 L479.8 203.75 L486.4 200.2Z M483.2 195.55 L483.2 202.65 L489.8 199.1Z M463 200.05 L463 207.15 L469.6 203.6Z M465.2 207.85 L465.2 214.95 L471.8 211.4Z M482 205.05 L482 212.15 L488.6 208.6Z M474.8 221.35 L474.8 228.45 L481.4 224.9Z M488.8 224.65 L488.8 231.75 L495.4 228.2Z M479.8 178.65 L479.8 185.75 L486.4 182.2Z M465.8 167.65 L465.8 174.75 L472.4 171.2Z M494.6 170.65 L494.6 177.75 L501.2 174.2Z M499.7 174.85 L499.7 181.95 L506.3 178.4Z M495.6 182.05 L495.6 189.15 L502.2 185.6Z M494.6 188.15 L494.6 195.25 L501.2 191.7Z M494.6 196.45 L494.6 203.55 L501.2 200Z M495.8 145.65 L495.8 152.75 L502.4 149.2Z M514.3 147.65 L514.3 154.75 L520.9 151.2Z M528.7 150.35 L528.7 157.45 L535.3 153.9Z M498.9 156.95 L498.9 164.05 L505.5 160.5Z M513.3 163.05 L513.3 170.15 L519.9 166.6Z M494.8 170.25 L494.8 177.35 L501.4 173.8Z M501 173.35 L501 180.45 L507.6 176.9Z M490.5 155.25 L490.5 162.35 L497.1 158.8Z M495.8 112.75 L495.8 119.85 L502.4 116.3Z M526.7 108.55 L526.7 115.65 L533.3 112.1Z M529.7 101.85 L529.7 108.95 L536.3 105.4Z M536.9 96.25 L536.9 103.35 L543.5 99.8Z M542.1 88.05 L542.1 95.15 L548.7 91.6Z M512.3 85.95 L512.3 93.05 L518.9 89.5Z M552.3 27.55 L552.3 34.65 L558.9 31.1Z" fill="#dc3730"/>
</g>
<rect x="416.6" y="3.5" width="255.4" height="237.1" fill="none" stroke="#111" stroke-width="1.35"/>
<path d="M416.6 240.6 L422.8 240.6 M416.6 161.57 L422.8 161.57 M416.6 82.53 L422.8 82.53 M416.6 3.5 L422.8 3.5 M416.6 240.6 L419.6 240.6 M416.6 220.84 L419.6 220.84 M416.6 201.08 L419.6 201.08 M416.6 181.32 L419.6 181.32 M416.6 161.57 L419.6 161.57 M416.6 141.81 L419.6 141.81 M416.6 122.05 L419.6 122.05 M416.6 102.29 L419.6 102.29 M416.6 82.53 L419.6 82.53 M416.6 62.77 L419.6 62.77 M416.6 43.02 L419.6 43.02 M416.6 23.26 L419.6 23.26 M416.6 3.5 L419.6 3.5 M672 240.6 L665.8 240.6 M672 161.57 L665.8 161.57 M672 82.53 L665.8 82.53 M672 3.5 L665.8 3.5 M672 240.6 L669 240.6 M672 220.84 L669 220.84 M672 201.08 L669 201.08 M672 181.32 L669 181.32 M672 161.57 L669 161.57 M672 141.81 L669 141.81 M672 122.05 L669 122.05 M672 102.29 L669 102.29 M672 82.53 L669 82.53 M672 62.77 L669 62.77 M672 43.02 L669 43.02 M672 23.26 L669 23.26 M672 3.5 L669 3.5 M416.6 240.6 L416.6 234.4 M501.73 240.6 L501.73 234.4 M586.87 240.6 L586.87 234.4 M672 240.6 L672 234.4 M416.6 240.6 L416.6 237.6 M437.88 240.6 L437.88 237.6 M459.17 240.6 L459.17 237.6 M480.45 240.6 L480.45 237.6 M501.73 240.6 L501.73 237.6 M523.02 240.6 L523.02 237.6 M544.3 240.6 L544.3 237.6 M565.58 240.6 L565.58 237.6 M586.87 240.6 L586.87 237.6 M608.15 240.6 L608.15 237.6 M629.43 240.6 L629.43 237.6 M650.72 240.6 L650.72 237.6 M672 240.6 L672 237.6 M416.6 3.5 L416.6 9.7 M501.73 3.5 L501.73 9.7 M586.87 3.5 L586.87 9.7 M672 3.5 L672 9.7 M416.6 3.5 L416.6 6.5 M437.88 3.5 L437.88 6.5 M459.17 3.5 L459.17 6.5 M480.45 3.5 L480.45 6.5 M501.73 3.5 L501.73 6.5 M523.02 3.5 L523.02 6.5 M544.3 3.5 L544.3 6.5 M565.58 3.5 L565.58 6.5 M586.87 3.5 L586.87 6.5 M608.15 3.5 L608.15 6.5 M629.43 3.5 L629.43 6.5 M650.72 3.5 L650.72 6.5 M672 3.5 L672 6.5 " stroke="#111" stroke-width="1.2" fill="none"/>
<text x="412.9" y="244.8" font-size="10.0" text-anchor="end" fill="#111" stroke="#111" stroke-width="0.12" textLength="5.6" lengthAdjust="spacingAndGlyphs">0</text>
<text x="417.5" y="253.5" font-size="10.0" text-anchor="middle" fill="#111" stroke="#111" stroke-width="0.12" textLength="5.6" lengthAdjust="spacingAndGlyphs">0</text>
<text x="412.9" y="165.77" font-size="10.0" text-anchor="end" fill="#111" stroke="#111" stroke-width="0.12" textLength="5.6" lengthAdjust="spacingAndGlyphs">2</text>
<text x="502.63" y="253.5" font-size="10.0" text-anchor="middle" fill="#111" stroke="#111" stroke-width="0.12" textLength="5.6" lengthAdjust="spacingAndGlyphs">2</text>
<text x="412.9" y="86.73" font-size="10.0" text-anchor="end" fill="#111" stroke="#111" stroke-width="0.12" textLength="5.6" lengthAdjust="spacingAndGlyphs">4</text>
<text x="587.77" y="253.5" font-size="10.0" text-anchor="middle" fill="#111" stroke="#111" stroke-width="0.12" textLength="5.6" lengthAdjust="spacingAndGlyphs">4</text>
<text x="412.9" y="7.7" font-size="10.0" text-anchor="end" fill="#111" stroke="#111" stroke-width="0.12" textLength="5.6" lengthAdjust="spacingAndGlyphs">6</text>
<text x="672.9" y="253.5" font-size="10.0" text-anchor="middle" fill="#111" stroke="#111" stroke-width="0.12" textLength="5.6" lengthAdjust="spacingAndGlyphs">6</text>
<text transform="translate(397.9 122) rotate(-90)" x="0" y="0" font-size="10" text-anchor="middle" dominant-baseline="central" fill="#111" stroke="#111" stroke-width="0.12"  textLength="131" lengthAdjust="spacingAndGlyphs">Ice Melt Vol. (MJ m<tspan font-size="7" dy="-4">−2</tspan><tspan dy="4">&#160; dy</tspan><tspan font-size="7" dy="-4">−1</tspan><tspan dy="4">)</tspan></text>
<text x="484.8" y="263" font-size="10" text-anchor="start" fill="#111" stroke="#111" stroke-width="0.12" font-weight="normal" font-style="normal"  textLength="119" lengthAdjust="spacingAndGlyphs">Heat Input (MJ m<tspan font-size="7" dy="-4">−2</tspan><tspan dy="4"> dy</tspan><tspan font-size="7" dy="-4">−1</tspan><tspan dy="4">)</tspan></text>
<text x="426.2" y="19.7" font-size="11" text-anchor="start" fill="#111" stroke="#111" stroke-width="0.35" font-weight="bold" font-style="normal" >e</text>
<text x="441.8" y="20.1" font-size="10.4" text-anchor="start" fill="#111" stroke="#111" stroke-width="0.12" font-weight="normal" font-style="normal"  textLength="50.4" lengthAdjust="spacingAndGlyphs">1979-2014</text>
<path d="M557.95 186.9 L565.05 186.9 L561.5 180.3Z" fill="#2c3f9c" transform="translate(561.5 183.6) scale(0.86) translate(-561.5 -183.6)"/>
<text x="566" y="186.6" font-size="10" text-anchor="start" fill="#2c3f9c" stroke="#2c3f9c" stroke-width="0.12" font-weight="normal" font-style="normal"  textLength="22.4" lengthAdjust="spacingAndGlyphs">May:</text>
<text x="592.3" y="186.6" font-size="9.8" text-anchor="start" fill="#2c3f9c" stroke="#2c3f9c" stroke-width="0.12" font-weight="normal" font-style="normal"  textLength="73.8" lengthAdjust="spacingAndGlyphs"><tspan font-style="italic">R</tspan>=0.77, <tspan font-style="italic">t</tspan>=6.96</text>
<path d="M564.8 193.35 L564.8 200.45 L558.2 196.9Z" fill="#52ae20" transform="translate(561.5 196.9) scale(0.86) translate(-561.5 -196.9)"/>
<text x="566" y="199.9" font-size="10" text-anchor="start" fill="#52ae20" stroke="#52ae20" stroke-width="0.12" font-weight="normal" font-style="normal"  textLength="19.5" lengthAdjust="spacingAndGlyphs">Jun:</text>
<text x="593.2" y="199.9" font-size="9.8" text-anchor="start" fill="#52ae20" stroke="#52ae20" stroke-width="0.12" font-weight="normal" font-style="normal"  textLength="72.9" lengthAdjust="spacingAndGlyphs"><tspan font-style="italic">R</tspan>=0.85, <tspan font-style="italic">t</tspan>=9.31</text>
<path d="M557.95 207.5 L565.05 207.5 L561.5 214.1Z" fill="#f5b12e" transform="translate(561.5 210.8) scale(0.86) translate(-561.5 -210.8)"/>
<text x="566" y="213.8" font-size="10" text-anchor="start" fill="#f5b12e" stroke="#f5b12e" stroke-width="0.12" font-weight="normal" font-style="normal"  textLength="15.1" lengthAdjust="spacingAndGlyphs">Jul:</text>
<text x="593.2" y="213.8" font-size="9.8" text-anchor="start" fill="#f5b12e" stroke="#f5b12e" stroke-width="0.12" font-weight="normal" font-style="normal"  textLength="72.9" lengthAdjust="spacingAndGlyphs"><tspan font-style="italic">R</tspan>=0.92, <tspan font-style="italic">t</tspan>=13.7</text>
<path d="M558.2 221.45 L558.2 228.55 L564.8 225Z" fill="#dc3730" transform="translate(561.5 225) scale(0.86) translate(-561.5 -225)"/>
<text x="566" y="228" font-size="10" text-anchor="start" fill="#dc3730" stroke="#dc3730" stroke-width="0.12" font-weight="normal" font-style="normal"  textLength="21.9" lengthAdjust="spacingAndGlyphs">Aug:</text>
<text x="591.4" y="228" font-size="9.8" text-anchor="start" fill="#dc3730" stroke="#dc3730" stroke-width="0.12" font-weight="normal" font-style="normal"  textLength="74.7" lengthAdjust="spacingAndGlyphs"><tspan font-style="italic">R</tspan>=0.91, <tspan font-style="italic">t</tspan>=12.9</text>
<path d="M416.6 469.3 L671.7 340" stroke="#de3a2e" stroke-width="1.4" stroke-dasharray="5 3" fill="none"/>
<path d="M416.6 469.3 L671.7 466.8" stroke="#2f7bbf" stroke-width="1.4" stroke-dasharray="5 3" fill="none"/>
<path d="M417.1 452.6 L422.9 458.4 M417.1 458.4 L422.9 452.6 M423 474.4 L428.8 480.2 M423 480.2 L428.8 474.4 M437.6 473.9 L443.4 479.7 M437.6 479.7 L443.4 473.9 M449.6 443 L455.4 448.8 M449.6 448.8 L455.4 443 M455.2 449.6 L461 455.4 M455.2 455.4 L461 449.6 M458.4 472.6 L464.2 478.4 M458.4 478.4 L464.2 472.6 M457.6 477.1 L463.4 482.9 M457.6 482.9 L463.4 477.1 M465.1 479.8 L470.9 485.6 M465.1 485.6 L470.9 479.8 M473.1 477.6 L478.9 483.4 M473.1 483.4 L478.9 477.6 M472.6 447 L478.4 452.8 M472.6 452.8 L478.4 447 M477.9 452.3 L483.7 458.1 M477.9 458.1 L483.7 452.3 M485.1 465.1 L490.9 470.9 M485.1 470.9 L490.9 465.1 M489.9 457.9 L495.7 463.7 M489.9 463.7 L495.7 457.9 M494.4 460.6 L500.2 466.4 M494.4 466.4 L500.2 460.6 M505.1 428.6 L510.9 434.4 M505.1 434.4 L510.9 428.6 M523.2 447.2 L529 453 M523.2 453 L529 447.2 M523.2 478.4 L529 484.2 M523.2 484.2 L529 478.4 M533.9 427.2 L539.7 433 M533.9 433 L539.7 427.2 M543.8 464.3 L549.6 470.1 M543.8 470.1 L549.6 464.3 " stroke="#2f7bbf" stroke-width="1.4" fill="none"/>
<circle cx="488.8" cy="411.6" r="3.9" fill="#de3a2e"/>
<circle cx="512.2" cy="410.8" r="3.9" fill="#de3a2e"/>
<circle cx="495.4" cy="421.4" r="3.9" fill="#de3a2e"/>
<circle cx="516.4" cy="420" r="3.9" fill="#de3a2e"/>
<circle cx="474.5" cy="425.6" r="3.9" fill="#de3a2e"/>
<circle cx="473.2" cy="436.2" r="3.9" fill="#de3a2e"/>
<circle cx="450.5" cy="454" r="3.9" fill="#de3a2e"/>
<circle cx="480.6" cy="470.5" r="3.9" fill="#de3a2e"/>
<circle cx="613.5" cy="309.4" r="3.9" fill="#de3a2e"/>
<circle cx="584.7" cy="356.3" r="3.9" fill="#de3a2e"/>
<circle cx="571.2" cy="385.6" r="3.9" fill="#de3a2e"/>
<circle cx="576.1" cy="382.9" r="3.9" fill="#de3a2e"/>
<circle cx="576.6" cy="391" r="3.9" fill="#de3a2e"/>
<circle cx="577.4" cy="439.1" r="3.9" fill="#de3a2e"/>
<circle cx="615" cy="429.5" r="3.9" fill="#de3a2e"/>
<rect x="416.6" y="275.3" width="255.1" height="235.1" fill="none" stroke="#111" stroke-width="1.35"/>
<path d="M416.6 510.4 L422.8 510.4 M416.6 432.03 L422.8 432.03 M416.6 353.67 L422.8 353.67 M416.6 275.3 L422.8 275.3 M416.6 510.4 L419.6 510.4 M416.6 490.81 L419.6 490.81 M416.6 471.22 L419.6 471.22 M416.6 451.62 L419.6 451.62 M416.6 432.03 L419.6 432.03 M416.6 412.44 L419.6 412.44 M416.6 392.85 L419.6 392.85 M416.6 373.26 L419.6 373.26 M416.6 353.67 L419.6 353.67 M416.6 334.08 L419.6 334.08 M416.6 314.48 L419.6 314.48 M416.6 294.89 L419.6 294.89 M416.6 275.3 L419.6 275.3 M671.7 510.4 L665.5 510.4 M671.7 432.03 L665.5 432.03 M671.7 353.67 L665.5 353.67 M671.7 275.3 L665.5 275.3 M671.7 510.4 L668.7 510.4 M671.7 490.81 L668.7 490.81 M671.7 471.22 L668.7 471.22 M671.7 451.62 L668.7 451.62 M671.7 432.03 L668.7 432.03 M671.7 412.44 L668.7 412.44 M671.7 392.85 L668.7 392.85 M671.7 373.26 L668.7 373.26 M671.7 353.67 L668.7 353.67 M671.7 334.08 L668.7 334.08 M671.7 314.48 L668.7 314.48 M671.7 294.89 L668.7 294.89 M671.7 275.3 L668.7 275.3 M416.6 510.4 L416.6 504.2 M480.38 510.4 L480.38 504.2 M544.15 510.4 L544.15 504.2 M607.93 510.4 L607.93 504.2 M671.7 510.4 L671.7 504.2 M416.6 510.4 L416.6 507.4 M432.54 510.4 L432.54 507.4 M448.49 510.4 L448.49 507.4 M464.43 510.4 L464.43 507.4 M480.38 510.4 L480.38 507.4 M496.32 510.4 L496.32 507.4 M512.26 510.4 L512.26 507.4 M528.21 510.4 L528.21 507.4 M544.15 510.4 L544.15 507.4 M560.09 510.4 L560.09 507.4 M576.04 510.4 L576.04 507.4 M591.98 510.4 L591.98 507.4 M607.93 510.4 L607.93 507.4 M623.87 510.4 L623.87 507.4 M639.81 510.4 L639.81 507.4 M655.76 510.4 L655.76 507.4 M671.7 510.4 L671.7 507.4 M416.6 275.3 L416.6 281.5 M480.38 275.3 L480.38 281.5 M544.15 275.3 L544.15 281.5 M607.93 275.3 L607.93 281.5 M671.7 275.3 L671.7 281.5 M416.6 275.3 L416.6 278.3 M432.54 275.3 L432.54 278.3 M448.49 275.3 L448.49 278.3 M464.43 275.3 L464.43 278.3 M480.38 275.3 L480.38 278.3 M496.32 275.3 L496.32 278.3 M512.26 275.3 L512.26 278.3 M528.21 275.3 L528.21 278.3 M544.15 275.3 L544.15 278.3 M560.09 275.3 L560.09 278.3 M576.04 275.3 L576.04 278.3 M591.98 275.3 L591.98 278.3 M607.93 275.3 L607.93 278.3 M623.87 275.3 L623.87 278.3 M639.81 275.3 L639.81 278.3 M655.76 275.3 L655.76 278.3 M671.7 275.3 L671.7 278.3 " stroke="#111" stroke-width="1.2" fill="none"/>
<text x="412.9" y="514.6" font-size="10.0" text-anchor="end" fill="#111" stroke="#111" stroke-width="0.12" textLength="5.6" lengthAdjust="spacingAndGlyphs">0</text>
<text x="412.9" y="436.23" font-size="10.0" text-anchor="end" fill="#111" stroke="#111" stroke-width="0.12" textLength="5.6" lengthAdjust="spacingAndGlyphs">2</text>
<text x="412.9" y="357.87" font-size="10.0" text-anchor="end" fill="#111" stroke="#111" stroke-width="0.12" textLength="5.6" lengthAdjust="spacingAndGlyphs">4</text>
<text x="412.9" y="279.5" font-size="10.0" text-anchor="end" fill="#111" stroke="#111" stroke-width="0.12" textLength="5.6" lengthAdjust="spacingAndGlyphs">6</text>
<text x="417.4" y="523.4" font-size="10.0" text-anchor="middle" fill="#111" stroke="#111" stroke-width="0.12" textLength="5.6" lengthAdjust="spacingAndGlyphs">0</text>
<text x="481.18" y="523.4" font-size="10.0" text-anchor="middle" fill="#111" stroke="#111" stroke-width="0.12" textLength="5.6" lengthAdjust="spacingAndGlyphs">2</text>
<text x="544.95" y="523.4" font-size="10.0" text-anchor="middle" fill="#111" stroke="#111" stroke-width="0.12" textLength="5.6" lengthAdjust="spacingAndGlyphs">4</text>
<text x="608.73" y="523.4" font-size="10.0" text-anchor="middle" fill="#111" stroke="#111" stroke-width="0.12" textLength="5.6" lengthAdjust="spacingAndGlyphs">6</text>
<text x="672.5" y="523.4" font-size="10.0" text-anchor="middle" fill="#111" stroke="#111" stroke-width="0.12" textLength="5.6" lengthAdjust="spacingAndGlyphs">8</text>
<text transform="translate(397.3 391.8) rotate(-90)" x="0" y="0" font-size="10" text-anchor="middle" dominant-baseline="central" fill="#111" stroke="#111" stroke-width="0.12"  textLength="127" lengthAdjust="spacingAndGlyphs">Ice Melt Vol. (x10<tspan font-size="7" dy="-4">2</tspan><tspan dy="4"> MJ m</tspan><tspan font-size="7" dy="-4">−2</tspan><tspan dy="4">)</tspan></text>
<text x="482.9" y="532.2" font-size="10" text-anchor="start" fill="#111" stroke="#111" stroke-width="0.12" font-weight="normal" font-style="normal"  textLength="122.7" lengthAdjust="spacingAndGlyphs"><tspan font-style="italic">Div</tspan> in Early Melt (% mo<tspan font-size="7" dy="-4">−1</tspan><tspan dy="4">)</tspan></text>
<text x="426.4" y="291.9" font-size="11" text-anchor="start" fill="#111" stroke="#111" stroke-width="0.35" font-weight="bold" font-style="normal" >f</text>
<text x="441.8" y="291.9" font-size="10.4" text-anchor="start" fill="#111" stroke="#111" stroke-width="0.12" font-weight="normal" font-style="normal"  textLength="50.4" lengthAdjust="spacingAndGlyphs">1979-2014</text>
<text x="563" y="406" font-size="10" text-anchor="start" fill="#de3a2e" stroke="#de3a2e" stroke-width="0.12" font-weight="normal" font-style="normal"  textLength="52.4" lengthAdjust="spacingAndGlyphs">After 2000:</text>
<text x="563" y="417.2" font-size="9.8" text-anchor="start" fill="#de3a2e" stroke="#de3a2e" stroke-width="0.12" font-weight="normal" font-style="normal"  textLength="104.9" lengthAdjust="spacingAndGlyphs"><tspan font-style="italic">R</tspan>=0.67, <tspan font-style="italic">n</tspan>=15, <tspan font-style="italic">t</tspan>=3.21</text>
<text x="563" y="477.7" font-size="10" text-anchor="start" fill="#2f7bbf" stroke="#2f7bbf" stroke-width="0.12" font-weight="normal" font-style="normal"  textLength="61" lengthAdjust="spacingAndGlyphs">Before 2000:</text>
<text x="563" y="489.5" font-size="9.8" text-anchor="start" fill="#2f7bbf" stroke="#2f7bbf" stroke-width="0.12" font-weight="normal" font-style="normal"  textLength="105.2" lengthAdjust="spacingAndGlyphs"><tspan font-style="italic">R</tspan>=0.30, <tspan font-style="italic">n</tspan>=21, <tspan font-style="italic">t</tspan>=1.11</text>
</svg></body></html>
